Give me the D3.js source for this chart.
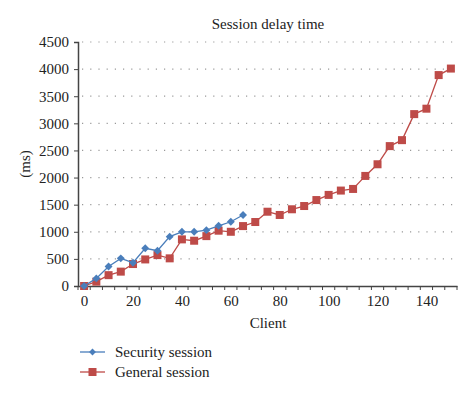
<!DOCTYPE html>
<html>
<head>
<meta charset="utf-8">
<script src="https://cdn.jsdelivr.net/npm/d3@7/dist/d3.min.js"></script>
<style>
  body { margin: 0; background: #fff; }
  svg { font-family: "Liberation Serif", "DejaVu Serif", serif; }
</style>
</head>
<body>
<svg id="chart" width="474" height="398"></svg>
<script>
const clients = d3.range(0, 155, 5);
const securitySession = [0, 140, 360, 510, 430, 695, 650, 910, 1000, 1000, 1030, 1110, 1185, 1310];
const generalSession = [0, 80, 200, 265, 405, 490, 570, 510, 860, 835, 920, 1020, 1000, 1105, 1180,
  1370, 1310, 1415, 1475, 1585, 1680, 1760, 1790, 2030, 2245, 2580, 2690, 3170, 3270, 3890, 4010];
const yTicks = d3.range(0, 4501, 500);
const xTicks = [0, 20, 40, 60, 80, 100, 120, 140];

const blue = '#4a7ebb';
const red = '#be4b48';
const fontSize = 15;

const svg = d3.select('#chart');
const plotLeft = 78, plotRight = 457, plotTop = 42, plotBottom = 286;

const x = d3.scaleLinear().domain([-2.5, 152.5]).range([plotLeft, plotRight]);
const y = d3.scaleLinear().domain([0, 4500]).range([plotBottom, plotTop]);

// dotted grid
svg.append('g')
  .selectAll('line')
  .data(yTicks.filter(d => d > 0))
  .join('line')
  .attr('x1', plotLeft + 4).attr('x2', plotRight)
  .attr('y1', d => y(d)).attr('y2', d => y(d))
  .attr('stroke', '#999')
  .attr('stroke-width', 1.2)
  .attr('stroke-dasharray', '1.2,7');

// y axis
const yAxis = svg.append('g')
  .attr('transform', `translate(${plotLeft},0)`)
  .call(d3.axisLeft(y).tickValues(yTicks).tickFormat(d3.format('d')).tickSize(4).tickPadding(5));
yAxis.select('.domain').attr('stroke', '#444').attr('stroke-width', 1.5);
yAxis.selectAll('.tick line').attr('stroke', '#444');
yAxis.selectAll('text').attr('font-size', fontSize).attr('fill', '#222')
  .attr('font-family', '"Liberation Serif", serif');

// x axis (category style: labels every 20, tick marks between categories)
const xAxis = svg.append('g')
  .attr('transform', `translate(0,${plotBottom})`)
  .call(d3.axisBottom(x).tickValues(xTicks).tickSize(0).tickPadding(9));
xAxis.select('.domain').attr('stroke', '#444').attr('stroke-width', 1.5);
xAxis.selectAll('text').attr('font-size', fontSize).attr('fill', '#222')
  .attr('font-family', '"Liberation Serif", serif');
xAxis.selectAll('.minor')
  .data(d3.range(-2.5, 153, 5))
  .join('line')
  .attr('class', 'minor')
  .attr('x1', d => x(d)).attr('x2', d => x(d))
  .attr('y1', 0).attr('y2', 4)
  .attr('stroke', '#444');

// title and axis labels
svg.append('text')
  .attr('x', 268).attr('y', 29)
  .attr('text-anchor', 'middle')
  .attr('font-size', fontSize).attr('fill', '#222')
  .text('Session delay time');
svg.append('text')
  .attr('x', 268).attr('y', 328)
  .attr('text-anchor', 'middle')
  .attr('font-size', fontSize).attr('fill', '#222')
  .text('Client');
svg.append('text')
  .attr('transform', 'translate(30,164) rotate(-90)')
  .attr('text-anchor', 'middle')
  .attr('font-size', fontSize).attr('fill', '#222')
  .text('(ms)');

const line = d3.line().x(d => x(d[0])).y(d => y(d[1]));
const genData = generalSession.map((v, i) => [clients[i], v]);
const secData = securitySession.map((v, i) => [clients[i], v]);

svg.append('path').datum(genData)
  .attr('d', line).attr('fill', 'none').attr('stroke', red).attr('stroke-width', 1.3);
svg.append('g').selectAll('rect').data(genData).join('rect')
  .attr('x', d => x(d[0]) - 4).attr('y', d => y(d[1]) - 4)
  .attr('width', 8).attr('height', 8).attr('fill', red);

svg.append('path').datum(secData)
  .attr('d', line).attr('fill', 'none').attr('stroke', blue).attr('stroke-width', 1.3);
const diamond = d3.symbol().type(d3.symbolDiamond2).size(40);
svg.append('g').selectAll('path').data(secData).join('path')
  .attr('d', diamond)
  .attr('transform', d => `translate(${x(d[0])},${y(d[1])})`)
  .attr('fill', blue);

// legend
const legend = [
  { name: 'Security session', color: blue, marker: 'diamond' },
  { name: 'General session', color: red, marker: 'square' }
];
const lg = svg.append('g').selectAll('g').data(legend).join('g')
  .attr('transform', (d, i) => `translate(80,${352 + i * 20})`);
lg.append('line').attr('x1', 0).attr('x2', 25).attr('stroke', d => d.color).attr('stroke-width', 1.3);
lg.filter(d => d.marker === 'square').append('rect')
  .attr('x', 8.5).attr('y', -4).attr('width', 8).attr('height', 8).attr('fill', d => d.color);
lg.filter(d => d.marker === 'diamond').append('path')
  .attr('d', d3.symbol().type(d3.symbolDiamond2).size(30))
  .attr('transform', 'translate(12.5,0)').attr('fill', d => d.color);
lg.append('text').attr('x', 35).attr('y', 5)
  .attr('font-size', fontSize).attr('fill', '#222')
  .text(d => d.name);
</script>
</body>
</html>
